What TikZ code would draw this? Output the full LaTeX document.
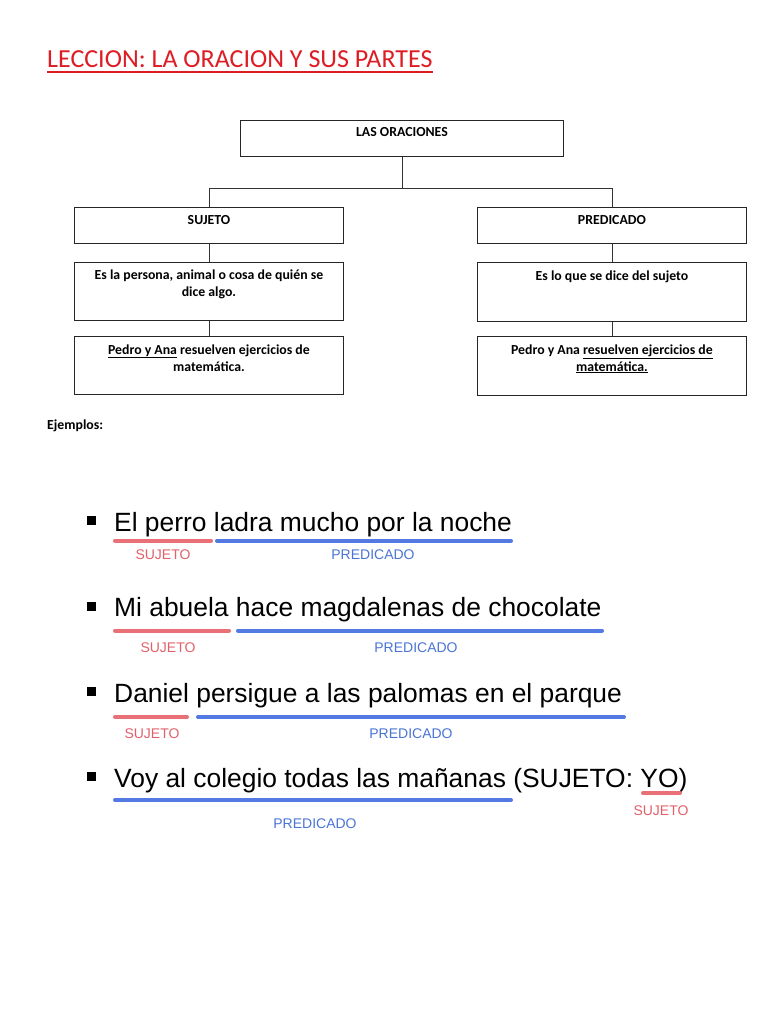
\documentclass[tikz,border=0pt]{standalone}
\usepackage{fontspec}
\setmainfont{Carlito}
\newfontfamily\arifont{Liberation Sans}
\usetikzlibrary{calc}
\definecolor{titlered}{RGB}{222,28,36}
\definecolor{sujred}{RGB}{232,112,118}
\definecolor{predblue}{RGB}{82,122,226}
\definecolor{sujtext}{RGB}{226,96,106}
\definecolor{predtext}{RGB}{74,116,214}
\tikzset{
  box/.style={draw=black!85, line width=0.9pt, inner sep=0pt, minimum width=269pt, anchor=north west},
  boxtext/.style={anchor=base, inner sep=0pt, align=center, font=\bfseries\fontsize{13.8}{17}\selectfont},
  conn/.style={draw=black!80, line width=0.9pt},
  extext/.style={anchor=base west, inner sep=0pt, font=\arifont\fontsize{26.4}{30}\selectfont},
  bullet/.style={fill=black, inner sep=0pt, minimum size=9pt},
  sujline/.style={draw=sujred, line width=4pt, line cap=round},
  predline/.style={draw=predblue, line width=4pt, line cap=round},
  sujlab/.style={anchor=base, inner sep=0pt, text=sujtext, font=\arifont\fontsize{14}{16}\selectfont},
  predlab/.style={anchor=base, inner sep=0pt, text=predtext, font=\arifont\fontsize{14}{16}\selectfont}
}
\begin{document}
\begin{tikzpicture}[x=1pt,y=-1pt]
\useasboundingbox[fill=white] (0,0) rectangle (768,1024);
% title
\node[anchor=base west, inner sep=0pt, text=titlered, font=\fontsize{26}{30}\selectfont] (title) at (47,68) {LECCION: LA ORACION Y SUS PARTES};
\draw[titlered, line width=1.2pt] ($(title.base west)+(0,4)$) -- ($(title.base east)+(0,4)$);
% tree
\node[box, minimum width=323pt, minimum height=36pt] (top) at (240,120) {};
\node[boxtext] (toptxt) at ($(top.north)+(0,17)$) {LAS ORACIONES};
\node[box, minimum height=36pt] (suj) at (74,207) {};
\node[boxtext] (sujtxt) at ($(suj.north)+(0,18)$) {SUJETO};
\node[box, minimum height=58pt] (sdef) at (74,262) {};
\node[boxtext] (sdeftxt) at ($(sdef.north)+(0,34)$) {Es la persona, animal o cosa de quién se\\dice algo.};
\node[box, minimum height=58pt] (sex) at (74,336) {};
\node[boxtext] (sextxt) at ($(sex.north)+(0,35)$) {\underline{Pedro y Ana} resuelven ejercicios de\\matemática.};
\node[box, minimum height=36pt] (pred) at (477,207) {};
\node[boxtext] (predtxt) at ($(pred.north)+(0,18)$) {PREDICADO};
\node[box, minimum height=59pt] (pdef) at (477,262) {};
\node[boxtext] (pdeftxt) at ($(pdef.north)+(0,18)$) {Es lo que se dice del sujeto};
\node[box, minimum height=59pt] (pex) at (477,336) {};
\node[boxtext] (pextxt) at ($(pex.north)+(0,35)$) {Pedro y Ana \underline{resuelven ejercicios de}\\\underline{matemática.}};
\coordinate (bus) at ($(top.south)+(0,32)$);
\draw[conn] (top.south) -- (bus);
\draw[conn] (suj.north) |- (bus) -| (pred.north);
\draw[conn] (suj) -- (sdef);
\draw[conn] (sdef) -- (sex);
\draw[conn] (pred) -- (pdef);
\draw[conn] (pdef) -- (pex);
% ejemplos
\node[anchor=base west, inner sep=0pt, font=\bfseries\fontsize{13.8}{16}\selectfont] (ej) at (47,429) {Ejemplos:};
% example 1
\node[bullet] (b1) at (91,520) {};
\node[extext] (e1) at (114,531) {El perro ladra mucho por la noche};
\draw[sujline] (115,540.5) -- (211,540.5);
\draw[predline] (217,540.5) -- (511,540.5);
\node[sujlab] (s1) at (163,559) {SUJETO};
\node[predlab] (p1) at (373,559) {PREDICADO};
% example 2
\node[bullet] (b2) at (91,606) {};
\node[extext] (e2) at (114,616) {Mi abuela hace magdalenas de chocolate};
\draw[sujline] (115,630.5) -- (229,630.5);
\draw[predline] (238,630.5) -- (602,630.5);
\node[sujlab] (s2) at (168,652) {SUJETO};
\node[predlab] (p2) at (416,652) {PREDICADO};
% example 3
\node[bullet] (b3) at (91,691) {};
\node[extext] (e3) at (114,702) {Daniel persigue a las palomas en el parque};
\draw[sujline] (115,717) -- (187,717);
\draw[predline] (198,717) -- (624,717);
\node[sujlab] (s3) at (152,738) {SUJETO};
\node[predlab] (p3) at (411,738) {PREDICADO};
% example 4
\node[bullet] (b4) at (91,776) {};
\node[extext] (e4) at (114,787) {Voy al colegio todas las mañanas (SUJETO: YO)};
\draw[predline] (115,800) -- (511,800);
\draw[sujline] (643,793) -- (680,793);
\node[sujlab] (s4) at (661,815) {SUJETO};
\node[predlab] (p4) at (315,828) {PREDICADO};
\end{tikzpicture}
\end{document}
